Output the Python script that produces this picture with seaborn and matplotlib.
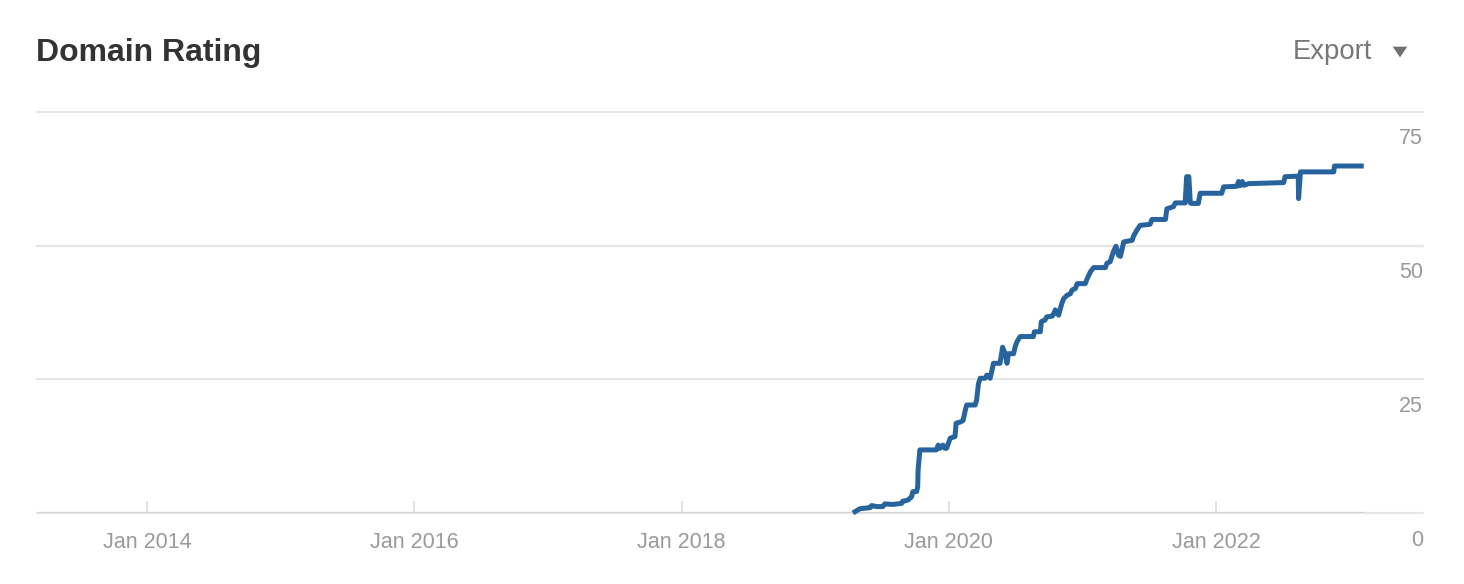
import matplotlib
matplotlib.use("Agg")
import matplotlib.pyplot as plt
import matplotlib.dates as mdates
from matplotlib.patches import Polygon
import pandas as pd
import seaborn as sns

# ---------------- data ----------------
dates = [
    "2019-04-14", "2019-05-03", "2019-05-31", "2019-06-04", "2019-06-18", "2019-07-05",
    "2019-07-10", "2019-08-01", "2019-08-25", "2019-08-28", "2019-09-11", "2019-09-21",
    "2019-09-25", "2019-10-05", "2019-10-08", "2019-10-09", "2019-10-14", "2019-11-28",
    "2019-12-03", "2019-12-08", "2019-12-16", "2019-12-21", "2019-12-26", "2020-01-05",
    "2020-01-18", "2020-01-21", "2020-02-01", "2020-02-09", "2020-02-15", "2020-02-19",
    "2020-03-13", "2020-03-17", "2020-03-22", "2020-03-27", "2020-04-09", "2020-04-14",
    "2020-04-23", "2020-04-28", "2020-05-02", "2020-05-20", "2020-05-27", "2020-06-03",
    "2020-06-08", "2020-06-12", "2020-06-26", "2020-06-30", "2020-07-05", "2020-07-14",
    "2020-08-19", "2020-08-22", "2020-09-07", "2020-09-10", "2020-09-20", "2020-09-25",
    "2020-10-09", "2020-10-12", "2020-10-18", "2020-10-27", "2020-11-05", "2020-11-10",
    "2020-11-19", "2020-11-28", "2020-12-03", "2020-12-12", "2020-12-17", "2021-01-08",
    "2021-01-13", "2021-01-22", "2021-01-31", "2021-03-04", "2021-03-08", "2021-03-17",
    "2021-03-26", "2021-04-02", "2021-04-09", "2021-04-14", "2021-04-23", "2021-05-16",
    "2021-05-20", "2021-05-29", "2021-06-07", "2021-07-04", "2021-07-09", "2021-08-15",
    "2021-08-19", "2021-09-06", "2021-09-11", "2021-10-08", "2021-10-12", "2021-10-18",
    "2021-10-22", "2021-10-26", "2021-11-13", "2021-11-18", "2021-12-29", "2022-01-16",
    "2022-01-21", "2022-02-26", "2022-03-03", "2022-03-07", "2022-03-13", "2022-03-18",
    "2022-03-30", "2022-07-04", "2022-07-08", "2022-08-13", "2022-08-14", "2022-08-19",
    "2022-11-18", "2022-11-20", "2023-02-08",
]
domain_rating = [
    0.0, 0.8, 1.0, 1.4, 1.2, 1.2,
    1.7, 1.6, 1.8, 2.2, 2.4, 3.0,
    4.0, 4.0, 4.9, 8.0, 11.8, 11.8,
    12.7, 12.1, 12.7, 12.1, 12.1, 14.0,
    14.3, 16.8, 17.0, 17.3, 19.2, 20.2,
    20.2, 21.1, 24.2, 25.2, 25.2, 25.8,
    25.2, 26.7, 28.0, 28.0, 31.0, 29.8,
    28.0, 29.8, 29.8, 31.0, 32.0, 33.0,
    33.0, 33.9, 33.9, 35.8, 36.1, 36.7,
    36.8, 37.0, 38.0, 37.0, 39.2, 40.1,
    40.7, 41.0, 41.7, 42.0, 42.9, 42.9,
    43.8, 45.1, 45.9, 45.9, 46.7, 47.0,
    48.9, 49.9, 48.2, 48.0, 50.7, 51.0,
    51.8, 52.9, 53.8, 54.0, 54.9, 54.9,
    56.9, 57.3, 58.0, 58.0, 62.9, 62.9,
    58.0, 57.9, 57.9, 59.8, 59.8, 59.8,
    61.0, 61.1, 62.0, 61.2, 62.0, 61.3,
    61.6, 61.8, 62.9, 63.0, 58.8, 63.8,
    63.8, 64.9, 64.9,
]
y_ticks = [0, 25, 50, 75]
x_range = ["2013-03-06", "2023-07-20"]

df = pd.DataFrame({"date": pd.to_datetime(dates), "dr": domain_rating})

# ---------------- style ----------------
sns.set_theme(style="white")
plt.rcParams["font.family"] = ["Liberation Sans", "DejaVu Sans"]

W, H = 1464, 584
fig = plt.figure(figsize=(W / 100, H / 100), dpi=100)
ax = fig.add_axes([37 / W, 1 - 513 / H, (1423 - 37) / W, (513 - 112) / H])

LINE = "#27649e"

sns.lineplot(data=df, x="date", y="dr", ax=ax, color=LINE, linewidth=3.6,
             estimator=None, sort=False)
ln = ax.lines[-1]
ln.set_clip_on(False)
ln.set_solid_joinstyle("round")
ln.set_solid_capstyle("butt")

x0, x1 = pd.to_datetime(x_range[0]), pd.to_datetime(x_range[1])
ax.set_xlim(x0, x1)
ax.set_ylim(0, 75)

for s in ax.spines.values():
    s.set_visible(False)

ax.set_yticks(y_ticks)
ax.yaxis.grid(True, color="#e6e6e6", linewidth=1.5)
for gl in ax.yaxis.get_gridlines():
    gl.set_clip_on(False)
ax.xaxis.grid(False)
ax.tick_params(axis="y", left=False, right=False, labelleft=False, labelright=False)

# baseline: darker up to last data point
ax.hlines(0, x0, df["date"].iloc[-1], color="#d3d3d3", linewidth=1.6, zorder=1.5)

for v in y_ticks:
    ax.annotate(str(v), xy=(1, v), xycoords=("axes fraction", "data"),
                xytext=(0, -27), textcoords="offset pixels",
                ha="right", va="center", fontsize=15.5, color="#9a9a9a")

ax.xaxis.set_major_locator(mdates.YearLocator(2, month=1, day=1))
ax.xaxis.set_major_formatter(mdates.DateFormatter("%b %Y"))
ax.tick_params(axis="x", direction="in", length=8.6, width=1.2, color="#dcdcdc",
               pad=13.5, labelsize=15.5, labelcolor="#9a9a9a", bottom=True)
ax.set_xlabel("")
ax.set_ylabel("")

# header
fig.text(36 / W, 1 - 61 / H, "Domain Rating", fontsize=23, fontweight="bold",
         color="#333333", ha="left", va="baseline")
fig.text(1372 / W, 1 - 59 / H, "Export", fontsize=19.8, color="#777777",
         ha="right", va="baseline")
tri = Polygon([[1392.7 / W, 1 - 46.7 / H], [1407.3 / W, 1 - 46.7 / H],
               [1400 / W, 1 - 57.3 / H]], closed=True, transform=fig.transFigure,
              facecolor="#6f6f6f", edgecolor="none")
fig.add_artist(tri)

fig.savefig("out.png", dpi=100)
